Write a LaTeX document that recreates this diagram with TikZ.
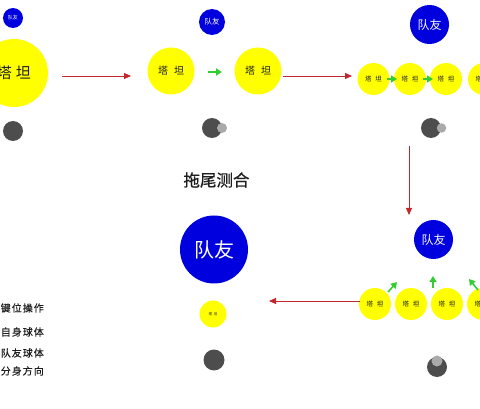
\documentclass[tikz,border=0pt]{standalone}
\usepackage{fontspec}
\setmainfont{Noto Sans CJK SC}
\usetikzlibrary{arrows.meta}
\definecolor{yelc}{RGB}{255,255,0}
\definecolor{bluc}{RGB}{0,0,222}
\definecolor{dkc}{RGB}{77,77,77}
\definecolor{ltc}{RGB}{170,170,170}
\definecolor{redc}{RGB}{193,39,45}
\definecolor{grc}{RGB}{51,204,51}
\definecolor{txc}{RGB}{30,30,30}
\newcommand{\fsz}[1]{\fontsize{#1pt}{#1pt}\selectfont}
\tikzset{
  ball/.style={circle, inner sep=0pt, draw=none},
  yel/.style={ball, fill=yelc, text=txc},
  blu/.style={ball, fill=bluc, text=white},
  dk/.style={ball, fill=dkc, minimum size=20pt},
  lt/.style={ball, fill=ltc, minimum size=10pt},
  redarr/.style={draw=redc, line width=0.8pt, -{Triangle[length=7pt,width=6pt]}},
  grarr/.style={draw=grc, line width=1.6pt, -{Triangle[length=6pt,width=7pt]}},
  lbl/.style={inner sep=0pt, text=txc},
}
\begin{document}
\begin{tikzpicture}[x=1pt,y=-1pt]
\useasboundingbox (0,0) rectangle (480,409);
\clip (0,0) rectangle (480,409);
% panel 1
\node[blu, minimum size=20pt] (b1) at (13,18) {\fsz{5}队友};
\node[yel, minimum size=68pt] (y1) at (14,73) {\fsz{15}塔\hspace{4pt}坦};
\node[dk] (d1) at (13,131) {};
\coordinate (r1s) at (62,76);
\coordinate (r1e) at (131,76);
\draw[redarr] (r1s) -- (r1e);
% panel 2
\node[blu, minimum size=26pt] (b2) at (212,22) {\fsz{7.5}队友};
\node[yel, minimum size=47pt] (y2a) at (171,71) {\fsz{10}塔\hspace{6pt}坦};
\node[yel, minimum size=47pt] (y2b) at (258,71) {\fsz{10}塔\hspace{6pt}坦};
\coordinate (g2s) at (208,72);
\coordinate (g2e) at (222,72);
\draw[grarr] (g2s) -- (g2e);
\node[dk] (d2) at (212,128) {};
\node[lt] (l2) at (222,128) {};
\coordinate (r2s) at (283,76);
\coordinate (r2e) at (352,76);
\draw[redarr] (r2s) -- (r2e);
% panel 3
\node[blu, minimum size=39pt] (b3) at (429.5,24.5) {\fsz{12}队友};
\node[yel, minimum size=32pt] (y3a) at (373.5,79) {\fsz{6.5}塔\hspace{4pt}坦};
\node[yel, minimum size=32pt] (y3b) at (410,79) {\fsz{6.5}塔\hspace{4pt}坦};
\node[yel, minimum size=32pt] (y3c) at (446,79) {\fsz{6.5}塔\hspace{4pt}坦};
\node[yel, minimum size=32pt] (y3d) at (484,79) {\fsz{6.5}塔\hspace{4pt}坦};
\coordinate (g3as) at (387,79);
\coordinate (g3ae) at (397,79);
\coordinate (g3bs) at (423,79);
\coordinate (g3be) at (433,79);
\draw[grarr] (g3as) -- (g3ae);
\draw[grarr] (g3bs) -- (g3be);
\node[dk] (d3) at (431,128) {};
\node[lt, minimum size=9.5pt] (l3) at (441.5,128) {};
\coordinate (r3s) at (409,146);
\coordinate (r3e) at (409,215);
\draw[redarr] (r3s) -- (r3e);
% title
\node[lbl] (title) at (216.5,180) {\fsz{16.5}\addfontfeatures{FakeBold=0.6}拖尾测合};
% panel 4 (bottom right)
\node[blu, minimum size=39pt] (b4) at (433.5,239.5) {\fsz{12}队友};
\node[yel, minimum size=32pt] (y4a) at (375,304) {\fsz{6.5}塔\hspace{4pt}坦};
\node[yel, minimum size=32pt] (y4b) at (411,304) {\fsz{6.5}塔\hspace{4pt}坦};
\node[yel, minimum size=32pt] (y4c) at (447,304) {\fsz{6.5}塔\hspace{4pt}坦};
\node[yel, minimum size=32pt] (y4d) at (483,304) {\fsz{6.5}塔\hspace{4pt}坦};
\coordinate (g4as) at (388,292);
\coordinate (g4ae) at (397,282);
\coordinate (g4bs) at (433,288);
\coordinate (g4be) at (433,276);
\coordinate (g4cs) at (478,290);
\coordinate (g4ce) at (469,279);
\draw[grarr] (g4as) -- (g4ae);
\draw[grarr] (g4bs) -- (g4be);
\draw[grarr] (g4cs) -- (g4ce);
\node[dk] (d4) at (437,367) {};
\node[lt, minimum size=11pt] (l4) at (437,361) {};
\coordinate (r4s) at (360,301);
\coordinate (r4e) at (269,301);
\draw[redarr] (r4s) -- (r4e);
% panel 5 (bottom left)
\node[blu, minimum size=68pt] (b5) at (214,249.5) {\fsz{20}队友};
\node[yel, minimum size=27pt] (y5) at (213,314) {\fsz{3.5}塔\hspace{2pt}坦};
\node[dk, minimum size=21pt] (d5) at (214,360) {};
% legend
\node[lbl, anchor=east] (k1) at (44,308) {\fsz{10}\addfontfeatures{LetterSpace=10,FakeBold=0.4}键位操作};
\node[lbl, anchor=east] (k2) at (44,332) {\fsz{10}\addfontfeatures{LetterSpace=10,FakeBold=0.4}自身球体};
\node[lbl, anchor=east] (k3) at (44,353) {\fsz{10}\addfontfeatures{LetterSpace=10,FakeBold=0.4}队友球体};
\node[lbl, anchor=east] (k4) at (44,371) {\fsz{10}\addfontfeatures{LetterSpace=10,FakeBold=0.4}分身方向};
\end{tikzpicture}
\end{document}
